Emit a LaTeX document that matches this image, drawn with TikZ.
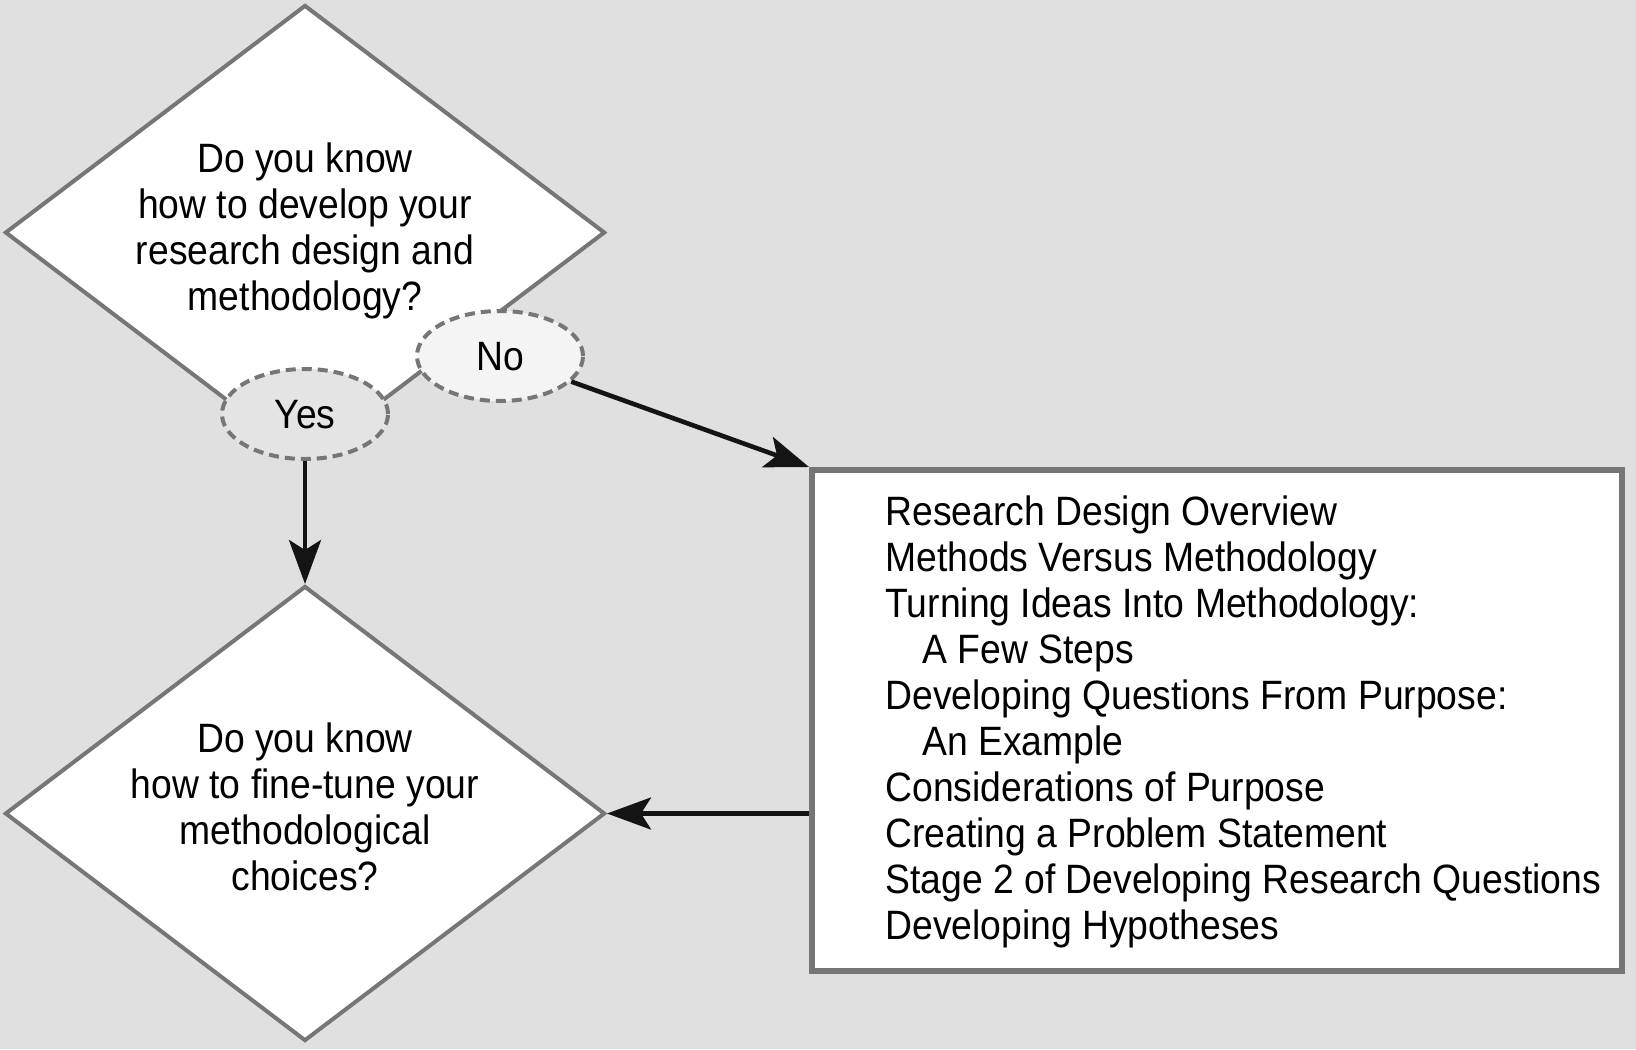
\documentclass[tikz,border=0pt]{standalone}
\usepackage{fontspec}
\setmainfont{Liberation Sans}[FakeStretch=0.91]
\usetikzlibrary{shapes.geometric,arrows.meta}
\definecolor{bg}{RGB}{224,224,224}
\definecolor{edgegray}{RGB}{118,118,118}
\definecolor{nofill}{RGB}{244,244,244}
\definecolor{yesfill}{RGB}{228,228,228}
\begin{document}
\begin{tikzpicture}[x=0.5pt,y=-0.5pt,
  font=\fontsize{20.5pt}{23pt}\selectfont,
  decision/.style={diamond, draw=edgegray, line width=2pt, fill=white, inner sep=0pt,
    minimum width=300pt, minimum height=227.5pt},
  answer/.style={ellipse, draw=edgegray, line width=2pt, dash pattern=on 5pt off 3pt,
    inner sep=0pt, minimum width=83pt, minimum height=45pt, text depth=0pt},
  qtext/.style={align=center, inner sep=0pt, anchor=base},
  flow/.style={draw=black!92, line width=2.3pt, -{Stealth[length=22pt,width=16pt,inset=5pt]}}]
\useasboundingbox (0,0) rectangle (1636,1049);
\fill[bg] (0,0) rectangle (1636,1049);

\node[decision] (d1) at (305,232.5) {};
\node[qtext] (t1) at (305,310) {Do you know\\how to develop your\\research design and\\methodology?};

\node[decision] (d2) at (305,813.5) {};
\node[qtext] (t2) at (305,890) {Do you know\\how to fine-tune your\\methodological\\choices?};

\node[answer, fill=yesfill] (yes) at (305,414) {Yes};
\node[answer, fill=nofill] (no) at (500,356) {No};

\node[draw=edgegray, line width=3pt, fill=white, inner sep=0pt,
  minimum width=405pt, minimum height=250.5pt] (box) at (1217,720.5) {};
\node[align=left, inner sep=0pt, anchor=base west] (list) at (885,939)
 {Research Design Overview\\
  Methods Versus Methodology\\
  Turning Ideas Into Methodology:\\
  \hspace*{18.5pt}A Few Steps\\
  Developing Questions From Purpose:\\
  \hspace*{18.5pt}An Example\\
  Considerations of Purpose\\
  Creating a Problem Statement\\
  Stage 2 of Developing Research Questions\\
  Developing Hypotheses};

\draw[flow] (yes) -- (d2.north);
\draw[flow] (no) -- (box.north west);
\draw[flow] (d2.east -| box.west) -- (d2.east);
\end{tikzpicture}
\end{document}
